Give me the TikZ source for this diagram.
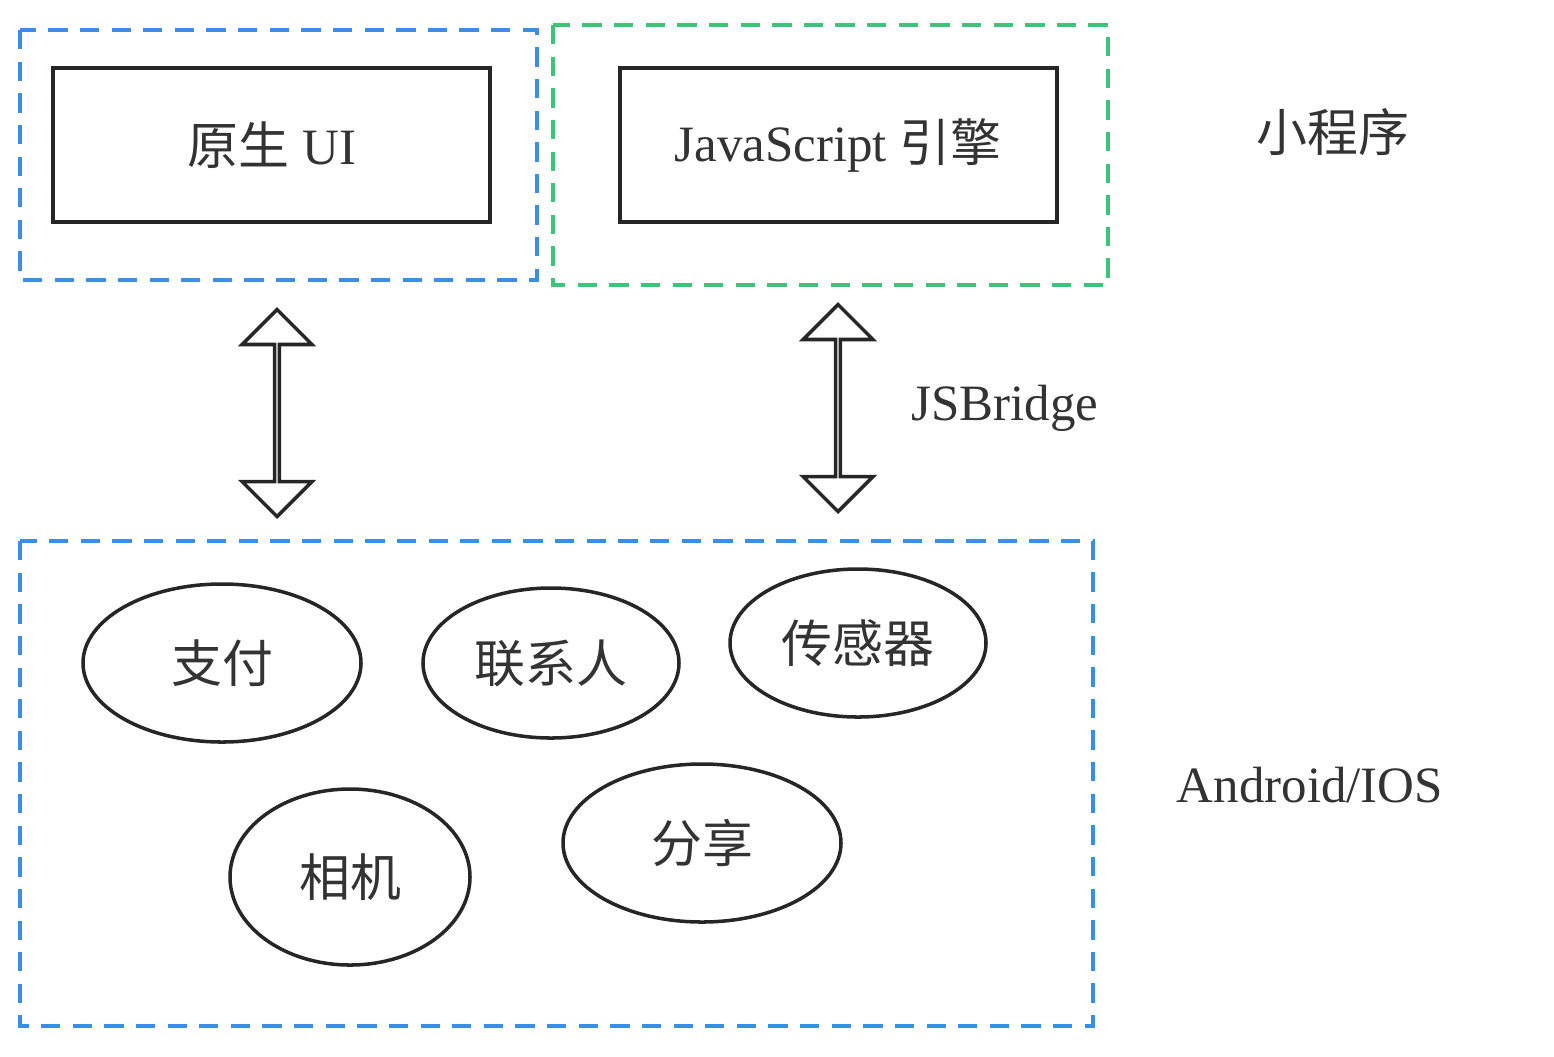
\documentclass[tikz,border=0pt]{standalone}
\usepackage{fontspec}
\setmainfont{Liberation Serif}
\newfontfamily\cjk{Noto Sans CJK SC}
\usetikzlibrary{shapes.arrows}
\begin{document}
\begin{tikzpicture}[x=0.02cm,y=-0.02cm,
  dashbox/.style={draw,line width=2.2pt,dash pattern=on 11pt off 7pt},
  solidbox/.style={draw,line width=2.2pt,fill=white,draw=black!85},
  lbl/.style={font=\fontsize{29pt}{33pt}\selectfont,text=black!80},
  darr/.style={double arrow,draw,draw=black!85,line width=2pt,rotate=90,inner sep=0pt,minimum width=1.4cm,double arrow head extend=0.5cm,double arrow tip angle=90}]
\useasboundingbox (0,0) rectangle (1554,1056);
\definecolor{bl}{HTML}{3A8EE6}\definecolor{gr}{HTML}{3CC47A}
\draw[dashbox,bl] (20,30) rectangle (537,280);
\draw[dashbox,gr] (553,25) rectangle (1108,285);
\draw[dashbox,bl] (20,541) rectangle (1093,1026);
\draw[solidbox] (53,68) rectangle (490,222);
\node[lbl] (ui) at (272,145) {{\cjk 原生} UI};
\draw[solidbox] (620,68) rectangle (1057,222);
\node[lbl] (js) at (838,145) {JavaScript {\cjk 引擎}};
\node[lbl] (mp) at (1333,132) {\cjk 小程序};
\node[darr,minimum height=207*0.02cm] (a1) at (277,413) {};
\node[darr,minimum height=207*0.02cm] (a2) at (838,408) {};
\node[lbl] (jsb) at (1005,408) {JSBridge};
\node[lbl] (and) at (1310,785) {Android/IOS};
\tikzset{el/.style={line width=2pt,draw=black!85}}
\draw[el] (222,663) ellipse [x radius=139,y radius=79];
\node[lbl] (zf) at (222,663) {\cjk 支付};
\draw[el] (551,663) ellipse [x radius=128,y radius=75];
\node[lbl] (lx) at (551,663) {\cjk 联系人};
\draw[el] (858,643) ellipse [x radius=128,y radius=74];
\node[lbl] (cg) at (858,643) {\cjk 传感器};
\draw[el] (350,877) ellipse [x radius=120,y radius=88];
\node[lbl] (xj) at (350,877) {\cjk 相机};
\draw[el] (702,843) ellipse [x radius=139,y radius=79];
\node[lbl] (fx) at (702,843) {\cjk 分享};
\end{tikzpicture}
\end{document}
